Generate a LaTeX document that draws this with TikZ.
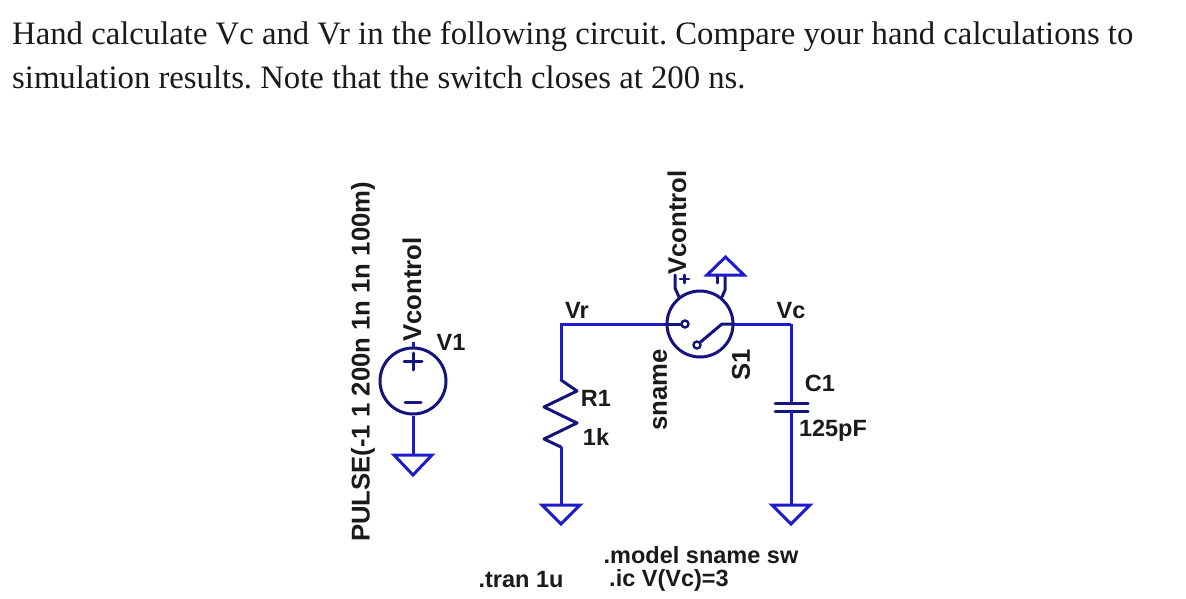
\documentclass[tikz,border=0pt]{standalone}
\usepackage{fontspec}
\setmainfont{Liberation Serif}
\newfontfamily\lab{Liberation Sans}[BoldFont={Liberation Sans Bold}]
\definecolor{wire}{HTML}{1C1CCC}
\definecolor{sym}{HTML}{14147F}
\definecolor{ink}{HTML}{1A1A1A}
\tikzset{
  x=1pt,y=-1pt,
  wireline/.style={draw=wire,line width=3pt,line join=miter},
  symline/.style={draw=sym,line width=3pt,line join=round,line cap=round},
  gnd/.style={draw=wire,line width=3pt,line join=miter},
  para/.style={font=\frenchspacing\fontsize{32.72}{40}\selectfont,text=ink,inner sep=0pt,anchor=base west},
  lbl/.style={font=\lab\bfseries\fontsize{23.5}{28}\selectfont,text=ink,inner sep=0pt},
  vlbl/.style={font=\lab\bfseries\fontsize{25.7}{30}\selectfont,text=ink,inner sep=0pt,rotate=90}
}
\begin{document}
\begin{tikzpicture}
\useasboundingbox[fill=white] (0,0) rectangle (1186,599);
% text
\node[para] (t1) at (12,45) {Hand calculate Vc and Vr in the following circuit. Compare your hand calculations to};
\node[para] (t2) at (12,89) {simulation results. Note that the switch closes at 200 ns.};
% V1
\coordinate (v1top) at (413,342);
\coordinate (g1) at (413,455);
\node[circle,draw=sym,line width=3pt,minimum size=66pt,inner sep=0pt] (v1) at (413,381) {};
\draw[wireline] (v1top) -- (v1.north);
\draw[wireline] (v1.south) -- (g1);
\draw[gnd] (394,455) -- (432,455) -- (413,475) -- cycle;
\draw[symline] (404,361) -- (422,361) (413,353) -- (413,370);
\draw[symline] (405,402) -- (421,402);
% resistor
\coordinate (rtop) at (561,380);
\coordinate (rbot) at (561,447);
\coordinate (corner1) at (561,324);
\coordinate (g2) at (561,505);
\draw[symline] (rtop) -- (577,391) -- (544,407) -- (577,423) -- (544,439) -- (rbot);
\draw[wireline] (rbot) -- (g2);
\draw[gnd] (542,505) -- (580,505) -- (561,524) -- cycle;
% switch
\node[circle,draw=sym,line width=3pt,minimum size=66pt,inner sep=0pt] (s1) at (700,324) {};
\coordinate (sa) at (685,324);
\coordinate (sb) at (697,345);
\coordinate (sc) at (722,324);
\coordinate (vc) at (791,324);
\draw[wireline] (rtop) -- (corner1) -- (s1.west);
\draw[symline] (s1.west) -- (681,324);
\node[circle,draw=sym,line width=2.4pt,minimum size=7pt,inner sep=0pt] (tb) at (sb) {};
\node[circle,draw=sym,line width=2.4pt,minimum size=7pt,inner sep=0pt] (ta) at (sa) {};
\draw[symline] (tb) -- (sc) -- (s1.east);
\draw[wireline] (s1.east) -- (vc);
% control pins
\coordinate (cp1) at (675,275);
\coordinate (cp2) at (675,288);
\coordinate (cp3) at (679,297);
\coordinate (cn1) at (725,275);
\coordinate (cn2) at (725,290);
\coordinate (cn3) at (722,297);
\draw[symline] (cp1) -- (cp2) -- (cp3);
\draw[symline] (cn1) -- (cn2) -- (cn3);
\draw[symline] (717,275) -- (717,283);
\draw[gnd] (707,275) -- (744,275) -- (725.5,257) -- cycle;
\draw[symline,line width=2.6pt] (680,279) -- (689,279) (684.5,275) -- (684.5,283);
% capacitor
\coordinate (cap1) at (791,403);
\coordinate (cap2) at (791,411);
\coordinate (g3) at (791,505);
\draw[wireline] (vc) -- (cap1);
\draw[symline] (775,403) -- (808,403) (775,411) -- (808,411);
\draw[wireline] (cap2) -- (g3);
\draw[gnd] (772,505) -- (810,505) -- (791,524) -- cycle;
% labels
\node[vlbl,anchor=west] (pulse) at (363,542) {PULSE(-1 1 200n 1n 1n 100m)};
\node[vlbl,anchor=west] (vctl) at (412,342) {Vcontrol};
\node[lbl] (lv1) at (451,342) {V1};
\node[lbl] (lvr) at (577,310) {Vr};
\node[lbl] (lr1) at (596,398) {R1};
\node[lbl] (l1k) at (596,437) {1k};
\node[vlbl] (lsname) at (660,390) {sname};
\node[vlbl] (ls1) at (741,365) {S1};
\node[vlbl,anchor=west] (vctl2) at (677,275) {Vcontrol};
\node[lbl] (lvc) at (791,311) {Vc};
\node[lbl] (lc1) at (820,383) {C1};
\node[lbl] (l125) at (833,431) {125pF};
\node[lbl] (lmodel) at (701,555) {.model sname sw};
\node[lbl] (lic) at (669,580) {.ic V(Vc)=3};
\node[lbl] (ltran) at (521,580) {.tran 1u};
\end{tikzpicture}
\end{document}
